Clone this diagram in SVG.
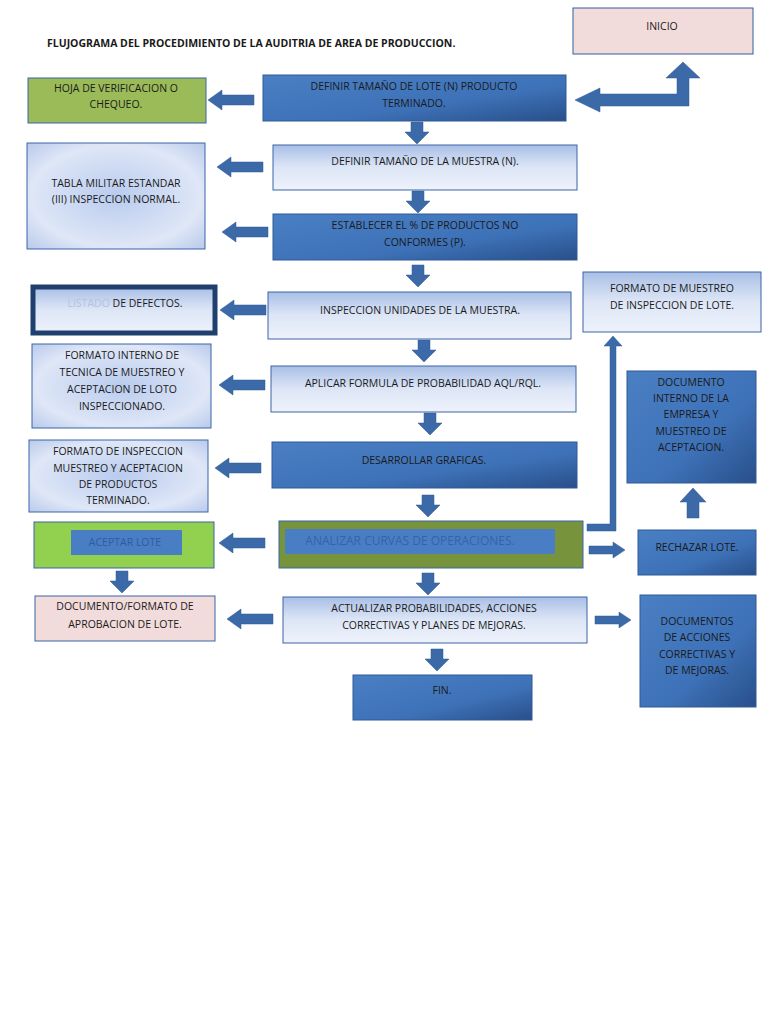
<svg xmlns="http://www.w3.org/2000/svg" width="768" height="1024" viewBox="0 0 768 1024">
<defs>
<linearGradient id="dk" x1="0" y1="0" x2="1" y2="1"><stop offset="0" stop-color="#4a7fc4"/><stop offset="0.6" stop-color="#3e72b8"/><stop offset="1" stop-color="#284f8a"/></linearGradient>
<linearGradient id="lt" x1="0" y1="0" x2="0" y2="1"><stop offset="0" stop-color="#a9bfe6"/><stop offset="0.5" stop-color="#dde6f6"/><stop offset="1" stop-color="#eef2fb"/></linearGradient>
<radialGradient id="lt2" cx="0.5" cy="0.5" r="0.8"><stop offset="0" stop-color="#b9cbee"/><stop offset="0.6" stop-color="#dfe7f7"/><stop offset="1" stop-color="#a9bde6"/></radialGradient>
<path id="la" d="M0,10 L14,0 L14,5 L46,5 L46,15 L14,15 L14,20 Z"/>
<path id="ra" d="M36,8 L24,0 L24,4 L0,4 L0,12 L24,12 L24,16 Z"/>
<path id="da" d="M6,0 H18 V10 H24 L12,22 L0,10 H6 Z"/>
</defs>
<style>
text{font-family:"Open Sans","Liberation Sans",sans-serif;font-size:10.5px;fill:#1a1a1a;text-anchor:middle}
.d{fill:url(#dk);stroke:#2e5a96;stroke-width:1}
.l{fill:url(#lt);stroke:#3a64a8;stroke-width:1}
.l2{fill:url(#lt2);stroke:#3a64a8;stroke-width:1}
.ar{fill:#3c69a8;stroke:#2e5a96;stroke-width:0.5}
.t{font-weight:bold;font-size:10.5px;text-anchor:start}
</style>
<text class="t" x="47" y="47">FLUJOGRAMA DEL PROCEDIMIENTO DE LA AUDITRIA DE AREA DE PRODUCCION.</text>
<g id="inicio"><rect x="573" y="8" width="180" height="46" fill="#f2dcdb" stroke="#2e5ea0"/><text x="662" y="30">INICIO</text></g>
<g id="lote"><rect class="d" x="263" y="75" width="303" height="46"/><text x="414" y="90">DEFINIR TAMAÑO DE LOTE (N) PRODUCTO</text><text x="414" y="107">TERMINADO.</text></g>
<g id="hoja"><rect x="28" y="78" width="178" height="45" fill="#9bbb59" stroke="#3a64a8"/><text x="116" y="92">HOJA DE VERIFICACION O</text><text x="116" y="108">CHEQUEO.</text></g>
<g id="muestra"><rect class="l" x="273" y="145" width="304" height="45"/><text x="425" y="165">DEFINIR TAMAÑO DE LA MUESTRA (N).</text></g>
<g id="tabla"><rect class="l2" x="27" y="143" width="178" height="106"/><text x="116" y="187">TABLA MILITAR ESTANDAR</text><text x="116" y="203">(III) INSPECCION NORMAL.</text></g>
<g id="establecer"><rect class="d" x="273" y="214" width="304" height="46"/><text x="425" y="229">ESTABLECER EL % DE PRODUCTOS NO</text><text x="425" y="246">CONFORMES (P).</text></g>
<g id="listado"><rect x="33" y="287" width="182" height="46" fill="url(#lt)" stroke="#1f3f6e" stroke-width="5"/><text x="125" y="307"><tspan fill="#b5c3e0">LISTADO </tspan>DE DEFECTOS.</text></g>
<g id="inspeccion"><rect class="l" x="268" y="292" width="303" height="47"/><text x="420" y="314">INSPECCION UNIDADES DE LA MUESTRA.</text></g>
<g id="fint"><rect class="l2" x="32" y="344" width="179" height="84"/><text x="122" y="359">FORMATO INTERNO DE</text><text x="122" y="376">TECNICA DE MUESTREO Y</text><text x="122" y="393">ACEPTACION DE LOTO</text><text x="122" y="410">INSPECCIONADO.</text></g>
<g id="aplicar"><rect class="l" x="271" y="366" width="305" height="46"/><text x="423" y="387">APLICAR FORMULA DE PROBABILIDAD AQL/RQL.</text></g>
<g id="finsp"><rect class="l2" x="29" y="440" width="179" height="72"/><text x="118" y="455">FORMATO DE INSPECCION</text><text x="118" y="472">MUESTREO Y ACEPTACION</text><text x="118" y="488">DE PRODUCTOS</text><text x="118" y="504">TERMINADO.</text></g>
<g id="desarrollar"><rect class="d" x="272" y="442" width="305" height="46"/><text x="424" y="464">DESARROLLAR GRAFICAS.</text></g>
<g id="aceptar"><rect x="34" y="522" width="180" height="46" fill="#92d050" stroke="#3a64a8"/><rect x="71" y="530" width="111" height="25" fill="#4a7ec4"/><text x="125" y="546" fill="#2f5fa6" style="fill:#2d5c9e">ACEPTAR LOTE</text></g>
<g id="analizar"><rect x="279" y="521" width="304" height="47" fill="#77933c" stroke="#3a64a8"/><rect x="285" y="529" width="270" height="25" fill="#4a7ec4"/><text x="410" y="545" style="fill:#3463a8;font-size:12px">ANALIZAR CURVAS DE OPERACIONES.</text></g>
<g id="rechazar"><rect class="d" x="638" y="530" width="118" height="45"/><text x="697" y="551">RECHAZAR LOTE.</text></g>
<g id="fmuestreo"><rect class="l" x="583" y="272" width="178" height="60"/><text x="672" y="292">FORMATO DE MUESTREO</text><text x="672" y="309">DE INSPECCION DE LOTE.</text></g>
<g id="docint"><rect class="d" x="627" y="371" width="129" height="112"/><text x="691" y="386">DOCUMENTO</text><text x="691" y="402">INTERNO DE LA</text><text x="691" y="418">EMPRESA Y</text><text x="691" y="435">MUESTREO DE</text><text x="691" y="451">ACEPTACION.</text></g>
<g id="docapr"><rect x="35" y="596" width="180" height="45" fill="#f2dcdb" stroke="#3a64a8"/><text x="125" y="610">DOCUMENTO/FORMATO DE</text><text x="125" y="628">APROBACION DE LOTE.</text></g>
<g id="actualizar"><rect class="l" x="283" y="597" width="304" height="46"/><text x="434" y="612">ACTUALIZAR PROBABILIDADES, ACCIONES</text><text x="434" y="629">CORRECTIVAS Y PLANES DE MEJORAS.</text></g>
<g id="docacc"><rect class="d" x="640" y="595" width="116" height="112"/><text x="697" y="625">DOCUMENTOS</text><text x="697" y="641">DE    ACCIONES</text><text x="697" y="658">CORRECTIVAS Y</text><text x="697" y="674">DE MEJORAS.</text></g>
<g id="fin"><rect class="d" x="353" y="675" width="179" height="45"/><text x="442" y="694">FIN.</text></g>
<g id="connectors" class="ar">
<path class="ar" d="M575,100 L600,88 L600,94 L677,94 L677,78 L666,78 L683,62 L700,78 L689,78 L689,106 L600,106 L600,112 Z"/>
<use href="#la" x="208" y="90"/>
<use href="#la" x="217" y="157"/>
<use href="#la" x="222" y="222"/>
<use href="#la" x="220" y="300"/>
<use href="#la" x="219" y="375"/>
<use href="#la" x="215" y="458"/>
<use href="#la" x="219" y="533"/>
<use href="#la" x="227" y="609"/>
<use href="#ra" x="589" y="542"/>
<use href="#ra" x="595" y="612"/>
<use href="#da" x="405" y="122"/>
<use href="#da" x="406" y="191"/>
<use href="#da" x="406" y="265"/>
<use href="#da" x="412" y="340"/>
<use href="#da" x="418" y="413"/>
<use href="#da" x="416" y="495"/>
<use href="#da" x="416" y="573"/>
<use href="#da" x="425" y="649"/>
<use href="#da" x="110" y="571"/>
<path class="ar" d="M587,524 H610 V346 H604 L613,336 L622,346 H616 V531 H587 Z"/>
<path class="ar" d="M687,518 V502 H680 L693,488 L706,502 H699 V518 Z"/>
</g>
</svg>
